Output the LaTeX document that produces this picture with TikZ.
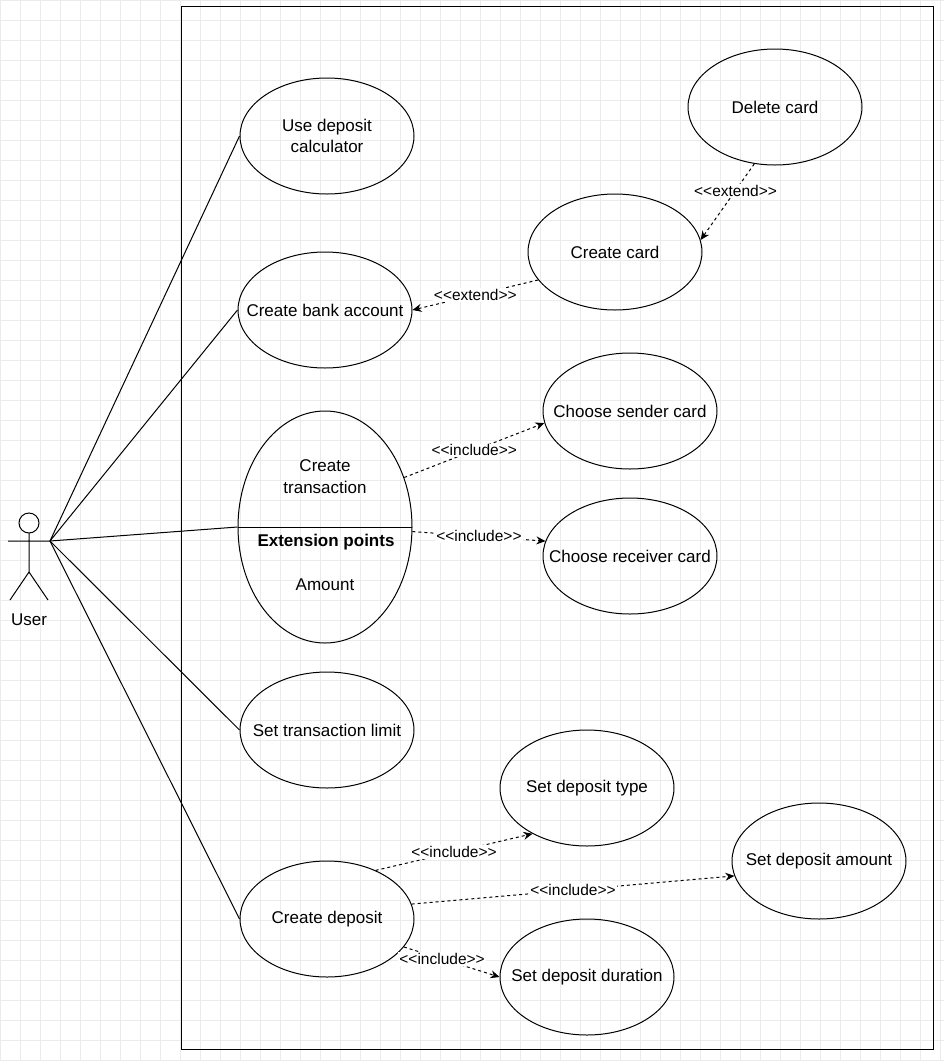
\documentclass[tikz,border=0pt]{standalone}
\usepackage{fontspec}
\setmainfont{Liberation Sans}
\usetikzlibrary{shapes.geometric,arrows.meta}
\newcommand{\stq}[1]{\textless{}\textless{}#1\textgreater{}\textgreater{}}
\begin{document}
\begin{tikzpicture}[x=1pt,y=-1pt,
  uc/.style={draw,ellipse,minimum width=174pt,minimum height=116pt,inner sep=0pt,line width=1pt,
    label={[font=\fontsize{17}{21}\selectfont,align=center]center:#1}},
  dep/.style={draw,dashed,line width=1pt,-{Stealth[length=9pt,width=8pt]}},
  lab/.style={fill=white,inner sep=1pt,font=\fontsize{15.5}{18}\selectfont},
  assoc/.style={draw,line width=1pt}]
\useasboundingbox (0,0) rectangle (944,1061);
\fill[white] (0,0) rectangle (944,1061);
\draw[black!8,step=20pt] (0,0) grid (944,1061);
\draw[line width=1pt] (181,6) rectangle (933,1049);
% actor
\draw[line width=1pt] (29,523) circle (10);
\draw[line width=1pt] (29,533) -- (29,572) (8,541) -- (50,541) (29,572) -- (10,600) (29,572) -- (48,600);
\node[font=\fontsize{17}{21}\selectfont] (userlab) at (29,620) {User};
\coordinate (user) at (50,541);
% use cases
\node[uc={Use deposit\\calculator}] (calc) at (327,136) {};
\node[uc={Create bank account}] (bank) at (325,310) {};
\node[uc={},minimum height=232pt] (trans) at (325,527) {};
\draw[line width=1pt] (238,527) -- (412,527);
\node[font=\fontsize{17}{22}\selectfont,align=center] (transl) at (325,477) {Create\\transaction};
\node[font=\fontsize{17}{21}\selectfont\bfseries] (ext) at (326,542) {Extension points};
\node[font=\fontsize{17}{21}\selectfont] (amt) at (325,585) {Amount};
\node[uc={Set transaction limit}] (limit) at (327,730) {};
\node[uc={Create deposit}] (cdep) at (327,919) {};
\node[uc={Delete card}] (del) at (775,107) {};
\node[uc={Create card}] (card) at (615,252) {};
\node[uc={Choose sender card}] (send) at (630,411) {};
\node[uc={Choose receiver card}] (recv) at (630,556) {};
\node[uc={Set deposit type}] (dtype) at (587,788) {};
\node[uc={Set deposit amount}] (damt) at (819,861) {};
\node[uc={Set deposit duration}] (ddur) at (587,977) {};
% associations
\draw[assoc] (user) -- (calc.west);
\draw[assoc] (user) -- (bank.west);
\draw[assoc] (user) -- (trans.west);
\draw[assoc] (user) -- (limit.west);
\draw[assoc] (user) -- (cdep.west);
% dependencies
\draw[dep] (del.250) -- node[lab,pos=0.35]{\stq{extend}} (card.8);
\draw[dep] (card.200) -- node[lab]{\stq{extend}} (bank.east);
\draw[dep] (trans.32) -- node[lab]{\stq{include}} (send.188);
\draw[dep] (trans.357) -- node[lab]{\stq{include}} (recv.170);
\draw[dep] (cdep.45) -- node[lab]{\stq{include}} (dtype.220);
\draw[dep] (cdep.10) -- node[lab]{\stq{include}} (damt.190);
\draw[dep] (cdep.340) -- node[lab,pos=0.4]{\stq{include}} (ddur.west);
\end{tikzpicture}
\end{document}
